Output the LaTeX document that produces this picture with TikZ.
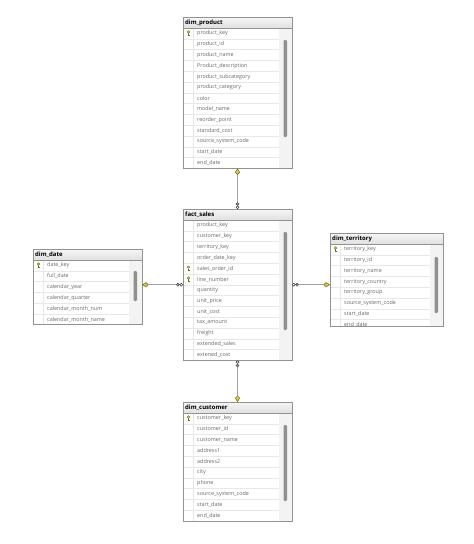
\documentclass[tikz,border=0pt]{standalone}
\usepackage{fontspec}
\setmainfont{Open Sans}
\usetikzlibrary{arrows.meta,positioning,calc}
\definecolor{linegray}{HTML}{A3A3A3}
\definecolor{bordergray}{HTML}{939393}
\definecolor{rowgray}{HTML}{E8E8E8}
\definecolor{fieldtext}{HTML}{6A6A6A}
\definecolor{headtop}{HTML}{F6F6F6}
\definecolor{headbot}{HTML}{E0E0E0}
\definecolor{trackgray}{HTML}{F3F3F3}
\definecolor{thumbgray}{HTML}{909090}
\definecolor{keyyellow}{HTML}{D8D040}
\definecolor{keyedge}{HTML}{6E6A1E}
\newcommand{\rowht}{10.8}
% table body: #1 node, #2 title, #3 fields, #4 key rows, #5/#6 scroll thumb top/bottom
\newcommand{\tblbody}[6]{%
  \begin{scope}
    \clip (#1.north west) rectangle (#1.south east);
    \shade[top color=headtop,bottom color=headbot] (#1.north west) rectangle ($(#1.north east)+(0,11)$);
    \fill[trackgray] ($(#1.north east)+(-13,11)$) rectangle (#1.south east);
    \draw[rowline] ($(#1.north west)+(10,11)$) -- ($(#1.south west)+(10,0)$);
    \foreach \f [count=\i] in {#3} {
      \draw[rowline] ($(#1.north west)+(0,11+\i*\rowht)$) -- ($(#1.north east)+(-13,11+\i*\rowht)$);
      \node[field] (#1-\i) at ($(#1.north west)+(14,11+\i*\rowht-\rowht/2)$) {\f};
    }
    \foreach \k in {#4}
      \pic at ($(#1.north west)+(5.5,11+\k*\rowht-\rowht/2)$) {pkey};
    \fill[thumbgray,rounded corners=1.2pt] ($(#1.north east)+(-8.5,#5)$) rectangle ($(#1.north east)+(-5,#6)$);
  \end{scope}
  \node[head] (#1-title) at ($(#1.north west)+(2,5.8)$) {#2};
  \draw[bordergray,line width=0.5pt] ($(#1.north west)+(0,11)$) -- ($(#1.north east)+(0,11)$);
  \draw[bordergray,line width=0.8pt] (#1.north west) rectangle (#1.south east);
}

\begin{document}
\begin{tikzpicture}[x=1pt,y=-1pt,
    tbl/.style={rectangle,fill=white,inner sep=0pt,outer sep=0pt,minimum width=109pt},
    field/.style={anchor=west,inner sep=0pt,text=fieldtext,font=\fontsize{5.4}{6}\selectfont},
    head/.style={anchor=west,inner sep=0pt,font=\fontsize{6}{6}\selectfont\bfseries},
    rowline/.style={draw=rowgray,line width=0.4pt},
    rel/.style={draw=linegray,line width=1.2pt,
      arrows={Circle[open,length=3.4pt,width=3.6pt,line width=0.6pt,color=black!70]Circle[open,length=3.4pt,width=3.6pt,line width=0.6pt,color=black!70]-Kite[length=6.5pt,width=5pt,inset=2.5pt,line width=0.5pt,color=keyedge,fill=keyyellow]}},
    pkey/.pic={
      \fill[keyyellow,draw=keyedge,line width=0.3pt] (0,-1.4) circle (1.3);
      \draw[keyedge,line width=0.5pt] (0,-0.1) -- (0,2.8) (0,2) -- (1,2);
    }]
  \fill[white] (0,0) rectangle (474,544);
  \useasboundingbox (0,0) rectangle (474,544);

  \node[tbl,minimum height=151.4pt,anchor=north west] (fact) at (183,209) {};
  \node[tbl,minimum height=151.4pt,above=40.6pt of fact] (product) {};
  \node[tbl,minimum height=119pt,below=41.6pt of fact] (customer) {};
  \node[tbl,minimum height=75.8pt,left=41pt of fact,yshift=-2.2pt] (date) {};
  \node[tbl,minimum height=93pt,minimum width=113pt,right=38pt of fact,yshift=5.2pt] (territory) {};

  \tblbody{product}{dim\_product}{product\_key,product\_id,product\_name,Product\_description,product\_subcategory,product\_category,color,model\_name,reorder\_point,standard\_cost,source\_system\_code,start\_date,end\_date}{1}{23}{120}
  \tblbody{fact}{fact\_sales}{product\_key,customer\_key,territory\_key,order\_date\_key,sales\_order\_id,line\_number,quantity,unit\_price,unit\_cost,tax\_amount,freight,extended\_sales,extened\_cost}{5,6}{23}{121}
  \tblbody{date}{dim\_date}{date\_key,full\_date,calendar\_year,calendar\_quarter,calendar\_month\_num,calendar\_month\_name}{1}{22}{52}
  \tblbody{territory}{dim\_territory}{territory\_key,territory\_id,territory\_name,territory\_country,territory\_group,source\_system\_code,start\_date,end\_date}{1}{24}{80}
  \tblbody{customer}{dim\_customer}{customer\_key,customer\_id,customer\_name,address1,address2,city,phone,source\_system\_code,start\_date,end\_date}{1}{23}{99}

  % relationships, many side at fact_sales
  \draw[rel] (fact.north) -- (product.south);
  \draw[rel] (fact.south) -- (customer.north);
  \draw[rel] (fact.west) -- (fact.west -| date.east);
  \draw[rel] (fact.east) -- (fact.east -| territory.west);
\end{tikzpicture}
\end{document}
